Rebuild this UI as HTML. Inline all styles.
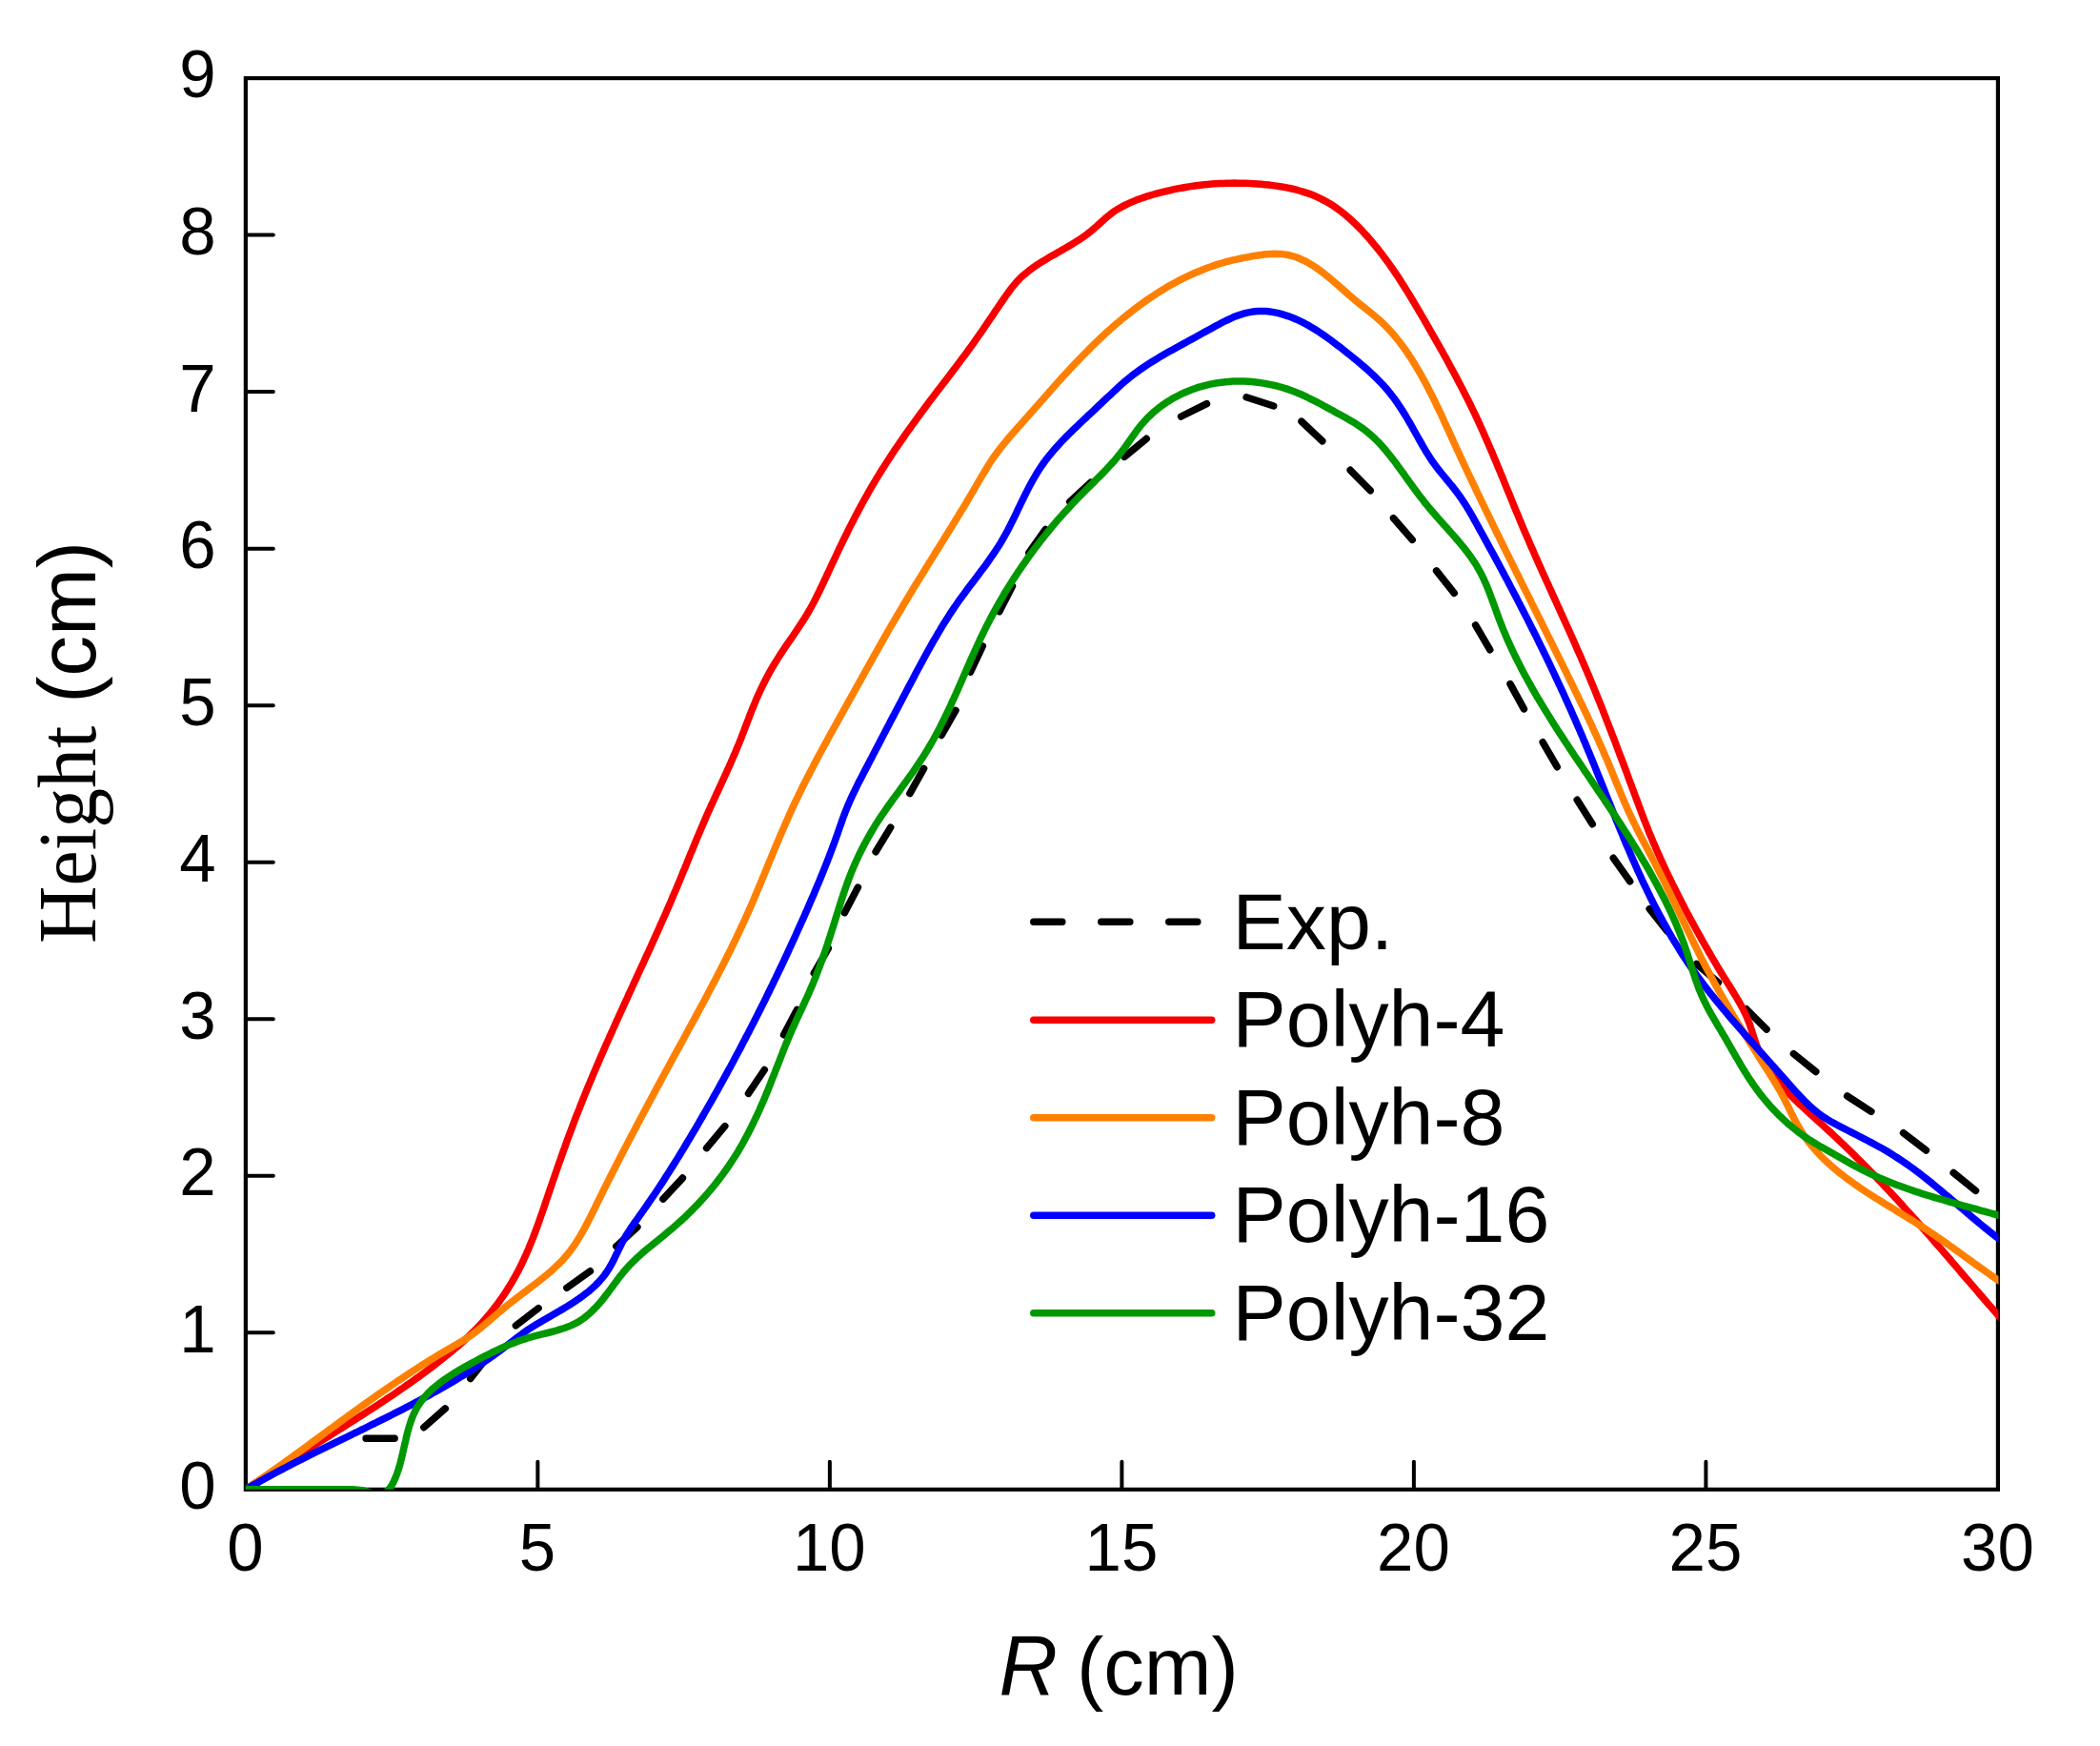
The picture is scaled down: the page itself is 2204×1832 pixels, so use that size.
<!DOCTYPE html>
<html lang="en"><head><meta charset="utf-8"><title>Height vs R (cm): Exp. and Polyh-4/8/16/32</title>
<style>html,body{margin:0;padding:0;background:#fff}svg{display:block}</style></head>
<body>
<svg width="2204" height="1832" viewBox="0 0 2204 1832">
<rect width="2204" height="1832" fill="#fff"/>
<defs><clipPath id="plot"><rect x="257.85" y="82.05" width="1839.60" height="1480.80"/></clipPath></defs>
<g fill="none" stroke="#000" stroke-width="4.20">
<rect x="257.85" y="82.05" width="1839.05" height="1480.80"/>
<path d="M564.36 1562.85V1533.85M870.87 1562.85V1533.85M1177.38 1562.85V1533.85M1483.88 1562.85V1533.85M1790.39 1562.85V1533.85M257.85 1398.32H286.85M257.85 1233.78H286.85M257.85 1069.25H286.85M257.85 904.72H286.85M257.85 740.18H286.85M257.85 575.65H286.85M257.85 411.12H286.85M257.85 246.58H286.85" stroke-linecap="round" stroke-width="4.00"/>
</g>
<g clip-path="url(#plot)" fill="none" stroke-width="7.50" stroke-linejoin="round">
<path d="M384.1 1509.2L414.1 1509.2M444.8 1497.7L467.3 1477.9M493.8 1446.5L512.2 1422.8M541.4 1390.9L565.1 1372.6M594.9 1351.2L619.4 1333.7M646.8 1307.7L668.9 1287.5M695.9 1258.1L716.4 1236.1M741.6 1204.6L760.8 1181.7M785.5 1147.3L802.3 1122.5M822.6 1085.8L836.6 1059.3M854.3 1021.2L869.3 995.1M886.4 957.7L900.4 931.1M919.1 893.7L934.7 868.1M954.9 832.6L969.6 806.4M988.1 771.5L1003.0 745.4M1018.5 705.1L1031.3 678.0M1048.8 641.7L1062.5 615.1M1079.9 580.0L1097.3 555.5M1122.8 526.6L1144.7 506.2M1180.1 479.4L1203.2 460.3M1239.6 437.0L1266.5 423.6M1308.1 416.8L1336.7 426.0M1366.0 442.2L1387.8 462.8M1417.2 493.3L1438.2 514.7M1462.5 543.7L1482.2 566.4M1507.6 598.9L1526.2 622.4M1548.6 655.9L1563.8 681.8M1585.0 717.6L1599.4 743.9M1619.2 778.8L1634.2 804.7M1655.2 839.3L1671.3 864.7M1693.3 900.3L1710.7 924.8M1731.2 953.7L1749.9 977.2M1780.6 1011.4L1803.4 1030.8M1832.8 1058.8L1854.1 1080.1M1882.4 1105.7L1905.8 1124.5M1938.7 1150.0L1963.9 1166.3M1997.6 1188.7L2021.5 1207.0M2050.2 1230.5L2073.5 1249.4" stroke="#000" stroke-linecap="round"/>
<path d="M257.9 1562.9L261.1 1560.6L264.4 1558.4L267.7 1556.2L271.0 1554.0L274.3 1551.8L277.6 1549.6L281.0 1547.4L284.3 1545.2L287.7 1543.0L291.0 1540.9L294.4 1538.7L297.7 1536.5L301.1 1534.4L304.5 1532.3L307.9 1530.1L311.2 1528.0L314.6 1525.8L318.0 1523.7L321.4 1521.6L324.8 1519.5L328.2 1517.3L331.6 1515.2L335.0 1513.1L338.4 1511.0L341.9 1508.8L345.3 1506.7L348.7 1504.6L352.1 1502.4L355.5 1500.3L358.9 1498.2L362.3 1496.0L365.7 1493.9L369.1 1491.8L372.5 1489.6L375.9 1487.4L379.3 1485.3L382.6 1483.1L386.0 1480.9L389.4 1478.8L392.8 1476.6L396.1 1474.4L399.5 1472.2L402.8 1470.0L406.2 1467.7L409.5 1465.5L412.8 1463.3L416.1 1461.0L419.4 1458.7L422.7 1456.5L426.0 1454.2L429.3 1451.9L432.6 1449.6L435.8 1447.2L439.1 1444.9L442.3 1442.5L445.5 1440.2L448.7 1437.8L451.9 1435.4L455.1 1433.0L458.2 1430.5L461.4 1428.1L464.5 1425.6L467.6 1423.1L470.7 1420.6L473.8 1418.1L476.9 1415.5L479.9 1413.0L482.9 1410.4L485.9 1407.7L488.8 1405.0L491.8 1402.3L494.6 1399.5L497.5 1396.7L500.3 1393.9L503.0 1391.0L505.8 1388.0L508.4 1385.0L511.1 1382.0L513.7 1378.9L516.2 1375.8L518.7 1372.6L521.1 1369.4L523.5 1366.2L525.9 1362.9L528.2 1359.6L530.4 1356.3L532.6 1352.9L534.7 1349.5L536.8 1346.1L538.8 1342.6L540.8 1339.1L542.7 1335.6L544.6 1332.1L546.4 1328.5L548.1 1325.0L549.8 1321.3L551.5 1317.7L553.1 1314.1L554.7 1310.4L556.2 1306.7L557.7 1303.0L559.2 1299.3L560.6 1295.6L562.0 1291.9L563.4 1288.1L564.8 1284.4L566.1 1280.6L567.4 1276.8L568.8 1273.0L570.1 1269.3L571.4 1265.5L572.6 1261.7L573.9 1257.9L575.2 1254.1L576.5 1250.3L577.8 1246.5L579.1 1242.7L580.4 1238.9L581.7 1235.2L583.0 1231.4L584.3 1227.6L585.6 1223.8L586.9 1220.0L588.3 1216.3L589.6 1212.5L590.9 1208.7L592.3 1205.0L593.6 1201.2L595.0 1197.4L596.4 1193.7L597.8 1189.9L599.2 1186.2L600.6 1182.4L602.0 1178.7L603.4 1174.9L604.8 1171.2L606.3 1167.5L607.8 1163.8L609.2 1160.0L610.7 1156.3L612.2 1152.6L613.7 1148.9L615.2 1145.2L616.7 1141.5L618.3 1137.8L619.8 1134.1L621.4 1130.4L622.9 1126.7L624.5 1123.0L626.0 1119.4L627.6 1115.7L629.2 1112.0L630.8 1108.3L632.4 1104.7L634.0 1101.0L635.6 1097.3L637.2 1093.7L638.9 1090.0L640.5 1086.3L642.1 1082.7L643.8 1079.0L645.4 1075.4L647.0 1071.7L648.7 1068.1L650.3 1064.5L652.0 1060.8L653.7 1057.2L655.3 1053.5L657.0 1049.9L658.7 1046.3L660.3 1042.6L662.0 1039.0L663.7 1035.3L665.3 1031.7L667.0 1028.1L668.7 1024.4L670.3 1020.8L672.0 1017.2L673.7 1013.5L675.4 1009.9L677.0 1006.3L678.7 1002.6L680.4 999.0L682.0 995.4L683.7 991.7L685.3 988.1L687.0 984.4L688.6 980.8L690.3 977.1L691.9 973.5L693.5 969.8L695.1 966.2L696.8 962.5L698.4 958.9L700.0 955.2L701.6 951.5L703.2 947.9L704.8 944.2L706.3 940.5L707.9 936.8L709.5 933.2L711.0 929.5L712.6 925.8L714.1 922.1L715.6 918.4L717.1 914.7L718.7 911.0L720.2 907.3L721.7 903.6L723.2 899.8L724.7 896.1L726.3 892.4L727.8 888.7L729.3 885.0L730.8 881.3L732.4 877.6L733.9 873.9L735.5 870.3L737.1 866.6L738.6 862.9L740.2 859.2L741.8 855.6L743.4 851.9L745.1 848.2L746.7 844.6L748.4 841.0L750.1 837.3L751.7 833.7L753.4 830.1L755.1 826.4L756.8 822.8L758.4 819.2L760.1 815.5L761.8 811.9L763.4 808.2L765.1 804.6L766.7 800.9L768.3 797.3L769.9 793.6L771.5 789.9L773.0 786.3L774.6 782.6L776.1 778.8L777.6 775.1L779.0 771.4L780.5 767.7L781.9 763.9L783.3 760.2L784.8 756.4L786.2 752.7L787.6 748.9L789.1 745.2L790.6 741.5L792.1 737.8L793.6 734.1L795.2 730.4L796.9 726.8L798.6 723.2L800.3 719.6L802.1 716.0L803.9 712.4L805.8 708.9L807.7 705.4L809.7 701.9L811.7 698.5L813.8 695.0L815.9 691.6L818.0 688.3L820.2 684.9L822.4 681.6L824.7 678.2L826.9 674.9L829.2 671.6L831.5 668.3L833.7 665.0L836.0 661.7L838.2 658.4L840.4 655.0L842.6 651.7L844.7 648.3L846.8 644.9L848.8 641.5L850.8 638.0L852.7 634.5L854.6 631.0L856.4 627.4L858.2 623.8L860.0 620.2L861.7 616.6L863.4 613.0L865.1 609.4L866.8 605.8L868.5 602.1L870.2 598.5L871.9 594.8L873.6 591.2L875.3 587.6L877.0 584.0L878.7 580.3L880.4 576.7L882.1 573.1L883.9 569.5L885.6 565.9L887.4 562.3L889.2 558.7L890.9 555.1L892.7 551.6L894.6 548.0L896.4 544.4L898.2 540.9L900.1 537.4L902.0 533.8L903.9 530.3L905.8 526.8L907.7 523.3L909.7 519.8L911.6 516.3L913.6 512.9L915.6 509.4L917.7 506.0L919.7 502.5L921.8 499.1L923.9 495.7L926.0 492.3L928.2 489.0L930.3 485.6L932.5 482.2L934.7 478.9L936.9 475.5L939.1 472.2L941.4 468.9L943.6 465.6L945.9 462.3L948.2 459.0L950.5 455.7L952.8 452.4L955.1 449.2L957.5 445.9L959.8 442.7L962.2 439.4L964.5 436.2L966.9 433.0L969.3 429.8L971.7 426.5L974.1 423.3L976.5 420.1L978.9 417.0L981.3 413.8L983.7 410.6L986.2 407.4L988.6 404.2L991.0 401.1L993.4 397.9L995.9 394.7L998.3 391.5L1000.7 388.4L1003.1 385.2L1005.5 382.0L1007.9 378.8L1010.3 375.6L1012.7 372.4L1015.1 369.2L1017.4 365.9L1019.8 362.7L1022.1 359.5L1024.4 356.2L1026.7 352.9L1029.0 349.6L1031.3 346.3L1033.5 343.0L1035.8 339.7L1038.0 336.4L1040.3 333.1L1042.5 329.8L1044.7 326.4L1047.0 323.1L1049.2 319.8L1051.5 316.5L1053.8 313.2L1056.1 309.9L1058.4 306.7L1060.7 303.5L1063.2 300.3L1065.7 297.3L1068.4 294.3L1071.1 291.5L1074.0 288.9L1077.1 286.3L1080.2 283.8L1083.4 281.4L1086.7 279.1L1090.0 276.9L1093.4 274.8L1096.9 272.7L1100.3 270.6L1103.8 268.6L1107.4 266.6L1110.9 264.6L1114.4 262.6L1117.9 260.6L1121.3 258.6L1124.7 256.5L1128.1 254.4L1131.5 252.3L1134.8 250.1L1138.1 247.8L1141.3 245.5L1144.4 243.0L1147.5 240.4L1150.5 237.8L1153.5 235.1L1156.4 232.4L1159.4 229.7L1162.5 227.1L1165.6 224.6L1168.8 222.2L1172.1 220.0L1175.6 218.0L1179.1 216.1L1182.6 214.3L1186.3 212.6L1189.9 211.1L1193.7 209.6L1197.5 208.2L1201.3 206.9L1205.1 205.7L1209.0 204.5L1212.9 203.4L1216.7 202.4L1220.6 201.4L1224.5 200.5L1228.4 199.6L1232.3 198.7L1236.2 197.9L1240.1 197.2L1244.1 196.5L1248.0 195.9L1251.9 195.3L1255.9 194.7L1259.8 194.2L1263.8 193.8L1267.7 193.4L1271.7 193.1L1275.6 192.8L1279.6 192.6L1283.6 192.4L1287.6 192.2L1291.6 192.2L1295.6 192.1L1299.6 192.2L1303.6 192.2L1307.6 192.3L1311.6 192.5L1315.6 192.7L1319.6 193.0L1323.7 193.3L1327.7 193.7L1331.7 194.1L1335.8 194.6L1339.8 195.1L1343.8 195.7L1347.8 196.4L1351.7 197.2L1355.7 198.0L1359.6 198.9L1363.5 200.0L1367.3 201.1L1371.1 202.3L1374.9 203.6L1378.6 205.1L1382.2 206.6L1385.8 208.3L1389.3 210.1L1392.8 212.0L1396.2 214.0L1399.5 216.1L1402.8 218.4L1406.0 220.7L1409.1 223.1L1412.2 225.7L1415.3 228.3L1418.2 230.9L1421.2 233.7L1424.0 236.5L1426.9 239.3L1429.7 242.2L1432.4 245.2L1435.1 248.1L1437.7 251.2L1440.3 254.2L1442.9 257.3L1445.4 260.4L1447.9 263.5L1450.4 266.7L1452.8 269.9L1455.1 273.1L1457.5 276.4L1459.8 279.6L1462.1 282.9L1464.3 286.2L1466.6 289.5L1468.8 292.9L1470.9 296.2L1473.1 299.6L1475.2 303.0L1477.3 306.4L1479.4 309.8L1481.5 313.2L1483.6 316.7L1485.6 320.1L1487.7 323.6L1489.7 327.0L1491.7 330.5L1493.7 333.9L1495.7 337.4L1497.7 340.9L1499.7 344.4L1501.7 347.8L1503.7 351.3L1505.7 354.8L1507.7 358.3L1509.7 361.8L1511.6 365.3L1513.6 368.7L1515.5 372.2L1517.5 375.7L1519.4 379.2L1521.3 382.8L1523.2 386.3L1525.1 389.8L1527.0 393.3L1528.9 396.8L1530.8 400.4L1532.6 403.9L1534.5 407.5L1536.3 411.0L1538.1 414.6L1539.9 418.1L1541.7 421.7L1543.5 425.3L1545.2 428.9L1547.0 432.5L1548.7 436.1L1550.4 439.7L1552.1 443.3L1553.7 447.0L1555.4 450.6L1557.0 454.3L1558.6 457.9L1560.2 461.6L1561.8 465.2L1563.4 468.9L1565.0 472.6L1566.6 476.3L1568.1 480.0L1569.7 483.7L1571.2 487.4L1572.7 491.1L1574.3 494.8L1575.8 498.5L1577.3 502.2L1578.8 505.9L1580.3 509.6L1581.8 513.3L1583.4 517.0L1584.9 520.7L1586.4 524.4L1587.9 528.1L1589.4 531.8L1590.9 535.5L1592.5 539.2L1594.0 542.9L1595.5 546.6L1597.1 550.3L1598.6 554.0L1600.2 557.7L1601.8 561.4L1603.4 565.1L1605.0 568.8L1606.5 572.4L1608.2 576.1L1609.8 579.8L1611.4 583.4L1613.0 587.1L1614.6 590.7L1616.3 594.4L1617.9 598.0L1619.5 601.7L1621.2 605.3L1622.8 609.0L1624.5 612.6L1626.1 616.3L1627.8 619.9L1629.5 623.6L1631.1 627.2L1632.8 630.8L1634.4 634.5L1636.1 638.1L1637.7 641.8L1639.4 645.4L1641.0 649.0L1642.7 652.7L1644.3 656.3L1646.0 660.0L1647.6 663.6L1649.3 667.3L1650.9 670.9L1652.5 674.6L1654.1 678.3L1655.7 681.9L1657.4 685.6L1659.0 689.2L1660.5 692.9L1662.1 696.6L1663.7 700.3L1665.3 703.9L1666.8 707.6L1668.4 711.3L1669.9 715.0L1671.5 718.7L1673.0 722.4L1674.5 726.1L1676.0 729.8L1677.5 733.5L1679.0 737.2L1680.5 741.0L1682.0 744.7L1683.4 748.4L1684.9 752.1L1686.3 755.9L1687.8 759.6L1689.2 763.3L1690.7 767.1L1692.1 770.8L1693.6 774.5L1695.0 778.3L1696.4 782.0L1697.8 785.8L1699.2 789.5L1700.6 793.2L1702.1 797.0L1703.5 800.7L1704.9 804.5L1706.3 808.2L1707.7 812.0L1709.0 815.7L1710.4 819.5L1711.8 823.2L1713.2 827.0L1714.6 830.7L1716.0 834.5L1717.4 838.2L1718.8 841.9L1720.2 845.7L1721.6 849.4L1723.0 853.2L1724.4 856.9L1725.8 860.6L1727.3 864.3L1728.8 868.1L1730.2 871.8L1731.7 875.5L1733.3 879.2L1734.8 882.9L1736.4 886.6L1738.0 890.2L1739.6 893.9L1741.2 897.6L1742.8 901.2L1744.5 904.9L1746.2 908.5L1747.9 912.2L1749.6 915.8L1751.3 919.4L1753.1 923.0L1754.8 926.6L1756.6 930.2L1758.4 933.8L1760.2 937.4L1762.0 941.0L1763.8 944.5L1765.6 948.1L1767.5 951.6L1769.3 955.2L1771.2 958.7L1773.1 962.2L1775.0 965.7L1776.9 969.3L1778.8 972.8L1780.7 976.3L1782.6 979.7L1784.6 983.2L1786.5 986.7L1788.5 990.2L1790.5 993.6L1792.5 997.1L1794.5 1000.5L1796.5 1004.0L1798.5 1007.4L1800.6 1010.9L1802.6 1014.3L1804.7 1017.7L1806.8 1021.2L1808.9 1024.6L1811.0 1028.0L1813.1 1031.4L1815.3 1034.8L1817.4 1038.3L1819.5 1041.7L1821.6 1045.1L1823.7 1048.6L1825.7 1052.0L1827.6 1055.5L1829.5 1059.1L1831.2 1062.6L1832.9 1066.2L1834.4 1069.9L1835.9 1073.6L1837.2 1077.3L1838.4 1081.1L1839.6 1084.9L1840.8 1088.7L1842.1 1092.5L1843.4 1096.3L1844.9 1100.0L1846.5 1103.7L1848.3 1107.3L1850.1 1110.9L1852.1 1114.4L1854.1 1117.9L1856.3 1121.3L1858.5 1124.6L1860.8 1127.9L1863.2 1131.0L1865.7 1134.2L1868.3 1137.2L1870.9 1140.2L1873.5 1143.2L1876.2 1146.1L1879.0 1149.0L1881.8 1151.8L1884.7 1154.6L1887.5 1157.4L1890.4 1160.1L1893.4 1162.8L1896.3 1165.5L1899.3 1168.2L1902.3 1170.9L1905.3 1173.6L1908.2 1176.3L1911.2 1179.0L1914.2 1181.7L1917.1 1184.4L1920.1 1187.1L1923.0 1189.8L1925.9 1192.6L1928.8 1195.3L1931.7 1198.1L1934.6 1200.8L1937.5 1203.6L1940.4 1206.4L1943.2 1209.2L1946.1 1212.0L1948.9 1214.8L1951.8 1217.6L1954.6 1220.4L1957.4 1223.3L1960.2 1226.1L1963.0 1229.0L1965.8 1231.8L1968.6 1234.7L1971.3 1237.6L1974.1 1240.5L1976.8 1243.4L1979.6 1246.3L1982.3 1249.2L1985.0 1252.1L1987.8 1255.1L1990.5 1258.0L1993.2 1261.0L1995.9 1263.9L1998.6 1266.9L2001.3 1269.9L2003.9 1272.8L2006.6 1275.8L2009.3 1278.8L2011.9 1281.8L2014.6 1284.8L2017.2 1287.8L2019.9 1290.8L2022.5 1293.8L2025.2 1296.8L2027.8 1299.8L2030.4 1302.9L2033.1 1305.9L2035.7 1308.9L2038.3 1311.9L2040.9 1315.0L2043.6 1318.0L2046.2 1321.0L2048.8 1324.1L2051.4 1327.1L2054.0 1330.1L2056.6 1333.2L2059.2 1336.2L2061.8 1339.2L2064.4 1342.3L2067.1 1345.3L2069.7 1348.4L2072.3 1351.4L2074.9 1354.4L2077.5 1357.5L2080.1 1360.5L2082.7 1363.5L2085.3 1366.5L2087.9 1369.6L2090.6 1372.6L2093.2 1375.6L2095.8 1378.6L2098.4 1381.6L2101.0 1384.6" stroke="#f80000"/>
<path d="M257.8 1562.8L261.2 1560.6L264.5 1558.4L267.7 1556.1L271.0 1553.9L274.3 1551.6L277.6 1549.3L280.9 1547.0L284.1 1544.7L287.4 1542.4L290.7 1540.1L293.9 1537.8L297.2 1535.5L300.4 1533.1L303.7 1530.8L306.9 1528.5L310.1 1526.1L313.4 1523.8L316.6 1521.4L319.9 1519.0L323.1 1516.7L326.3 1514.3L329.6 1511.9L332.8 1509.6L336.0 1507.2L339.3 1504.8L342.5 1502.5L345.7 1500.1L349.0 1497.7L352.2 1495.4L355.4 1493.0L358.7 1490.6L361.9 1488.3L365.1 1485.9L368.4 1483.6L371.6 1481.2L374.9 1478.9L378.1 1476.5L381.4 1474.2L384.7 1471.9L387.9 1469.6L391.2 1467.2L394.5 1464.9L397.7 1462.6L401.0 1460.4L404.3 1458.1L407.6 1455.8L410.9 1453.5L414.2 1451.3L417.5 1449.0L420.9 1446.8L424.2 1444.6L427.5 1442.4L430.9 1440.2L434.2 1438.0L437.6 1435.8L440.9 1433.7L444.3 1431.5L447.7 1429.4L451.1 1427.3L454.5 1425.2L457.9 1423.1L461.3 1421.1L464.8 1419.0L468.2 1417.0L471.7 1415.0L475.1 1413.0L478.6 1411.0L482.0 1408.9L485.4 1406.9L488.8 1404.8L492.1 1402.6L495.4 1400.3L498.6 1397.9L501.8 1395.5L504.9 1393.0L507.9 1390.4L511.0 1387.9L514.0 1385.3L517.0 1382.7L520.1 1380.1L523.1 1377.5L526.1 1375.0L529.2 1372.4L532.2 1369.9L535.3 1367.4L538.4 1365.0L541.6 1362.5L544.8 1360.1L548.0 1357.6L551.2 1355.2L554.4 1352.8L557.6 1350.3L560.9 1347.9L564.1 1345.4L567.3 1342.9L570.4 1340.4L573.6 1337.8L576.7 1335.2L579.7 1332.5L582.6 1329.8L585.5 1327.1L588.4 1324.3L591.1 1321.4L593.7 1318.4L596.2 1315.4L598.7 1312.2L601.0 1309.1L603.3 1305.8L605.4 1302.5L607.5 1299.1L609.6 1295.7L611.5 1292.3L613.5 1288.8L615.3 1285.3L617.2 1281.7L619.0 1278.1L620.8 1274.6L622.6 1271.0L624.4 1267.3L626.1 1263.7L627.9 1260.1L629.7 1256.5L631.5 1252.9L633.2 1249.3L635.0 1245.7L636.8 1242.2L638.6 1238.6L640.4 1235.0L642.2 1231.4L644.1 1227.9L645.9 1224.3L647.7 1220.7L649.5 1217.2L651.4 1213.6L653.2 1210.0L655.0 1206.5L656.9 1202.9L658.7 1199.4L660.6 1195.8L662.4 1192.3L664.3 1188.8L666.2 1185.2L668.0 1181.7L669.9 1178.1L671.8 1174.6L673.6 1171.1L675.5 1167.5L677.4 1164.0L679.3 1160.5L681.1 1157.0L683.0 1153.5L684.9 1149.9L686.8 1146.4L688.7 1142.9L690.6 1139.4L692.5 1135.9L694.4 1132.3L696.3 1128.8L698.2 1125.3L700.1 1121.8L702.0 1118.3L703.9 1114.8L705.8 1111.3L707.7 1107.7L709.6 1104.2L711.6 1100.7L713.5 1097.2L715.4 1093.7L717.3 1090.2L719.2 1086.7L721.1 1083.2L723.0 1079.6L725.0 1076.1L726.9 1072.6L728.8 1069.1L730.7 1065.6L732.6 1062.1L734.5 1058.5L736.4 1055.0L738.3 1051.5L740.2 1047.9L742.1 1044.4L743.9 1040.9L745.8 1037.3L747.7 1033.8L749.5 1030.3L751.4 1026.7L753.2 1023.2L755.1 1019.6L756.9 1016.0L758.7 1012.5L760.5 1008.9L762.3 1005.3L764.1 1001.8L765.9 998.2L767.7 994.6L769.4 991.0L771.2 987.4L772.9 983.8L774.6 980.2L776.3 976.6L778.0 972.9L779.7 969.3L781.4 965.7L783.0 962.0L784.7 958.4L786.3 954.7L787.9 951.0L789.5 947.4L791.1 943.7L792.6 940.0L794.2 936.3L795.7 932.6L797.3 929.0L798.8 925.3L800.3 921.6L801.9 917.9L803.4 914.2L804.9 910.5L806.4 906.8L808.0 903.1L809.5 899.4L811.0 895.7L812.5 892.0L814.1 888.3L815.6 884.6L817.2 880.9L818.7 877.2L820.3 873.5L821.9 869.9L823.5 866.2L825.1 862.5L826.7 858.9L828.3 855.2L830.0 851.6L831.6 847.9L833.3 844.3L835.0 840.7L836.8 837.1L838.5 833.5L840.3 829.9L842.0 826.3L843.8 822.7L845.6 819.2L847.4 815.6L849.3 812.1L851.1 808.5L853.0 805.0L854.8 801.4L856.7 797.9L858.6 794.3L860.5 790.8L862.4 787.3L864.3 783.8L866.2 780.3L868.1 776.7L870.0 773.2L872.0 769.7L873.9 766.2L875.9 762.7L877.8 759.2L879.7 755.7L881.7 752.2L883.6 748.7L885.6 745.2L887.5 741.7L889.5 738.2L891.4 734.7L893.4 731.2L895.3 727.7L897.3 724.2L899.2 720.7L901.2 717.2L903.1 713.7L905.0 710.3L907.0 706.8L908.9 703.3L910.9 699.8L912.8 696.3L914.8 692.8L916.7 689.3L918.7 685.8L920.7 682.3L922.6 678.9L924.6 675.4L926.6 671.9L928.6 668.4L930.5 665.0L932.5 661.5L934.5 658.0L936.5 654.6L938.6 651.1L940.6 647.7L942.6 644.2L944.7 640.8L946.7 637.3L948.7 633.9L950.8 630.5L952.9 627.0L954.9 623.6L957.0 620.2L959.1 616.8L961.2 613.3L963.3 609.9L965.4 606.5L967.5 603.1L969.6 599.7L971.7 596.3L973.8 592.9L975.9 589.5L978.0 586.1L980.1 582.7L982.2 579.3L984.4 575.9L986.5 572.5L988.6 569.1L990.7 565.7L992.8 562.3L994.9 558.9L997.0 555.5L999.1 552.1L1001.2 548.7L1003.3 545.3L1005.4 541.9L1007.4 538.5L1009.5 535.1L1011.6 531.7L1013.6 528.3L1015.7 524.8L1017.7 521.4L1019.8 517.9L1021.8 514.5L1023.8 511.0L1025.8 507.5L1027.8 504.0L1029.8 500.6L1031.9 497.1L1034.0 493.7L1036.1 490.3L1038.2 486.9L1040.4 483.5L1042.6 480.2L1044.9 477.0L1047.3 473.7L1049.7 470.6L1052.1 467.5L1054.7 464.4L1057.2 461.3L1059.8 458.3L1062.4 455.3L1065.1 452.3L1067.7 449.3L1070.4 446.3L1073.1 443.3L1075.7 440.3L1078.4 437.3L1081.0 434.3L1083.7 431.3L1086.3 428.2L1089.0 425.2L1091.6 422.2L1094.3 419.2L1096.9 416.2L1099.6 413.2L1102.2 410.2L1104.9 407.2L1107.5 404.2L1110.2 401.3L1112.9 398.3L1115.5 395.3L1118.2 392.4L1120.9 389.5L1123.6 386.5L1126.3 383.6L1129.1 380.7L1131.8 377.9L1134.6 375.0L1137.4 372.1L1140.2 369.3L1143.0 366.5L1145.8 363.6L1148.7 360.8L1151.6 358.1L1154.5 355.3L1157.4 352.6L1160.3 349.8L1163.3 347.1L1166.3 344.5L1169.3 341.8L1172.4 339.2L1175.5 336.6L1178.5 334.0L1181.7 331.5L1184.8 329.0L1188.0 326.5L1191.1 324.0L1194.4 321.6L1197.6 319.2L1200.8 316.9L1204.1 314.6L1207.4 312.3L1210.8 310.1L1214.1 307.9L1217.5 305.8L1220.9 303.7L1224.3 301.6L1227.8 299.6L1231.2 297.7L1234.7 295.8L1238.2 293.9L1241.8 292.1L1245.4 290.3L1249.0 288.6L1252.6 287.0L1256.2 285.4L1259.9 283.9L1263.6 282.4L1267.3 281.0L1271.1 279.7L1274.8 278.4L1278.6 277.1L1282.5 276.0L1286.3 274.9L1290.2 273.9L1294.1 272.9L1298.0 272.1L1301.9 271.2L1305.9 270.4L1309.9 269.7L1313.9 268.9L1317.8 268.3L1321.8 267.7L1325.8 267.1L1329.8 266.7L1333.8 266.4L1337.8 266.3L1341.7 266.4L1345.6 266.6L1349.5 267.1L1353.3 267.8L1357.0 268.8L1360.7 270.0L1364.4 271.5L1368.0 273.1L1371.6 274.9L1375.1 277.0L1378.6 279.1L1382.0 281.4L1385.3 283.8L1388.6 286.2L1391.8 288.8L1395.0 291.3L1398.1 294.0L1401.2 296.6L1404.2 299.2L1407.2 301.8L1410.1 304.4L1413.1 307.1L1416.0 309.7L1419.0 312.2L1422.1 314.8L1425.1 317.3L1428.2 319.8L1431.4 322.3L1434.5 324.8L1437.7 327.4L1440.8 329.9L1443.9 332.5L1446.9 335.1L1449.9 337.8L1452.8 340.6L1455.6 343.5L1458.3 346.4L1461.0 349.3L1463.6 352.3L1466.1 355.4L1468.6 358.5L1471.0 361.7L1473.4 364.9L1475.7 368.2L1477.9 371.4L1480.1 374.8L1482.3 378.1L1484.4 381.5L1486.4 384.9L1488.5 388.4L1490.5 391.8L1492.4 395.3L1494.4 398.8L1496.3 402.3L1498.1 405.8L1500.0 409.4L1501.8 412.9L1503.6 416.5L1505.4 420.1L1507.1 423.7L1508.8 427.3L1510.6 430.9L1512.3 434.5L1514.0 438.2L1515.6 441.8L1517.3 445.4L1519.0 449.1L1520.7 452.7L1522.3 456.4L1524.0 460.0L1525.6 463.7L1527.3 467.3L1529.0 471.0L1530.7 474.6L1532.3 478.2L1534.0 481.9L1535.7 485.5L1537.4 489.1L1539.1 492.8L1540.8 496.4L1542.5 500.0L1544.2 503.6L1546.0 507.2L1547.7 510.8L1549.4 514.5L1551.1 518.1L1552.9 521.7L1554.6 525.3L1556.3 528.9L1558.1 532.5L1559.8 536.1L1561.6 539.7L1563.3 543.3L1565.1 546.9L1566.8 550.5L1568.6 554.1L1570.3 557.7L1572.1 561.3L1573.9 564.8L1575.6 568.4L1577.4 572.0L1579.2 575.6L1580.9 579.2L1582.7 582.8L1584.5 586.4L1586.3 589.9L1588.0 593.5L1589.8 597.1L1591.6 600.7L1593.4 604.3L1595.2 607.8L1596.9 611.4L1598.7 615.0L1600.5 618.6L1602.3 622.1L1604.1 625.7L1605.9 629.3L1607.6 632.9L1609.4 636.5L1611.2 640.0L1613.0 643.6L1614.8 647.2L1616.6 650.8L1618.4 654.3L1620.1 657.9L1621.9 661.5L1623.7 665.1L1625.5 668.7L1627.3 672.2L1629.1 675.8L1630.8 679.4L1632.6 683.0L1634.4 686.6L1636.2 690.2L1637.9 693.7L1639.7 697.3L1641.5 700.9L1643.3 704.5L1645.0 708.1L1646.8 711.7L1648.5 715.3L1650.3 718.9L1652.1 722.5L1653.8 726.1L1655.6 729.7L1657.3 733.3L1659.0 736.9L1660.8 740.5L1662.5 744.1L1664.2 747.7L1665.9 751.4L1667.6 755.0L1669.3 758.6L1671.0 762.2L1672.6 765.9L1674.3 769.5L1676.0 773.2L1677.6 776.8L1679.2 780.5L1680.8 784.1L1682.5 787.8L1684.0 791.5L1685.6 795.1L1687.2 798.8L1688.7 802.5L1690.3 806.2L1691.8 809.9L1693.3 813.6L1694.8 817.3L1696.3 821.0L1697.9 824.7L1699.4 828.4L1700.9 832.1L1702.4 835.8L1704.0 839.5L1705.6 843.2L1707.2 846.8L1708.8 850.5L1710.5 854.1L1712.2 857.7L1713.9 861.3L1715.7 864.9L1717.4 868.5L1719.2 872.1L1721.1 875.6L1722.9 879.2L1724.7 882.7L1726.6 886.3L1728.5 889.8L1730.3 893.4L1732.2 896.9L1734.1 900.5L1735.9 904.0L1737.8 907.6L1739.6 911.1L1741.4 914.7L1743.2 918.2L1745.0 921.8L1746.8 925.4L1748.6 929.0L1750.3 932.6L1752.1 936.2L1753.8 939.8L1755.6 943.4L1757.3 947.0L1759.0 950.6L1760.8 954.2L1762.5 957.8L1764.2 961.5L1765.9 965.1L1767.7 968.7L1769.4 972.3L1771.1 975.9L1772.9 979.5L1774.6 983.1L1776.4 986.7L1778.1 990.3L1779.9 993.9L1781.7 997.5L1783.4 1001.0L1785.2 1004.6L1787.1 1008.2L1788.9 1011.7L1790.7 1015.3L1792.6 1018.8L1794.5 1022.3L1796.4 1025.8L1798.3 1029.4L1800.2 1032.9L1802.2 1036.4L1804.1 1039.8L1806.1 1043.3L1808.1 1046.8L1810.1 1050.3L1812.1 1053.7L1814.1 1057.2L1816.1 1060.6L1818.2 1064.1L1820.2 1067.5L1822.3 1070.9L1824.4 1074.3L1826.5 1077.7L1828.6 1081.2L1830.7 1084.6L1832.8 1088.0L1834.9 1091.4L1837.0 1094.8L1839.1 1098.1L1841.3 1101.5L1843.4 1104.9L1845.5 1108.3L1847.7 1111.7L1849.8 1115.0L1852.0 1118.4L1854.2 1121.8L1856.3 1125.1L1858.4 1128.5L1860.5 1131.9L1862.6 1135.3L1864.7 1138.8L1866.7 1142.2L1868.7 1145.7L1870.6 1149.2L1872.5 1152.7L1874.3 1156.3L1876.1 1159.9L1877.9 1163.5L1879.6 1167.1L1881.4 1170.7L1883.2 1174.3L1885.1 1177.8L1887.0 1181.3L1889.1 1184.8L1891.2 1188.2L1893.4 1191.5L1895.6 1194.7L1898.0 1197.9L1900.5 1201.1L1903.0 1204.1L1905.7 1207.2L1908.3 1210.1L1911.1 1213.0L1913.9 1215.8L1916.8 1218.6L1919.8 1221.3L1922.8 1224.0L1925.8 1226.6L1928.9 1229.2L1932.1 1231.7L1935.2 1234.1L1938.4 1236.6L1941.6 1238.9L1944.9 1241.3L1948.2 1243.6L1951.4 1245.8L1954.8 1248.1L1958.1 1250.3L1961.4 1252.5L1964.8 1254.6L1968.2 1256.8L1971.6 1258.9L1975.0 1261.0L1978.4 1263.1L1981.8 1265.2L1985.2 1267.3L1988.6 1269.4L1992.0 1271.4L1995.4 1273.5L1998.8 1275.6L2002.2 1277.7L2005.6 1279.8L2009.0 1281.9L2012.4 1284.1L2015.8 1286.2L2019.1 1288.4L2022.5 1290.6L2025.8 1292.8L2029.1 1295.1L2032.4 1297.3L2035.7 1299.6L2039.0 1301.9L2042.3 1304.2L2045.5 1306.5L2048.8 1308.8L2052.0 1311.2L2055.3 1313.5L2058.5 1315.8L2061.8 1318.2L2065.0 1320.5L2068.3 1322.9L2071.5 1325.2L2074.8 1327.6L2078.0 1329.9L2081.3 1332.2L2084.6 1334.5L2087.8 1336.8L2091.1 1339.1L2094.4 1341.4L2097.7 1343.6L2101.0 1345.8" stroke="#ff8000"/>
<path d="M257.9 1562.8L261.3 1560.8L264.8 1558.8L268.3 1556.9L271.7 1554.9L275.2 1553.0L278.7 1551.0L282.2 1549.1L285.7 1547.2L289.3 1545.3L292.8 1543.4L296.3 1541.6L299.9 1539.7L303.4 1537.9L307.0 1536.0L310.5 1534.2L314.1 1532.4L317.7 1530.6L321.3 1528.8L324.8 1527.0L328.4 1525.2L332.0 1523.4L335.6 1521.7L339.2 1519.9L342.8 1518.1L346.4 1516.4L350.0 1514.6L353.6 1512.8L357.2 1511.1L360.8 1509.3L364.4 1507.6L368.0 1505.8L371.6 1504.0L375.2 1502.3L378.8 1500.5L382.4 1498.8L386.0 1497.0L389.6 1495.2L393.2 1493.5L396.8 1491.7L400.4 1489.9L404.0 1488.1L407.6 1486.3L411.2 1484.5L414.7 1482.7L418.3 1480.9L421.9 1479.1L425.4 1477.2L429.0 1475.4L432.5 1473.5L436.0 1471.7L439.6 1469.8L443.1 1467.9L446.6 1466.0L450.1 1464.1L453.6 1462.1L457.1 1460.2L460.6 1458.2L464.1 1456.3L467.5 1454.3L471.0 1452.3L474.4 1450.2L477.8 1448.2L481.3 1446.1L484.7 1444.1L488.1 1442.0L491.4 1439.8L494.8 1437.7L498.2 1435.5L501.5 1433.3L504.8 1431.1L508.2 1428.9L511.5 1426.6L514.7 1424.4L518.0 1422.1L521.3 1419.7L524.5 1417.4L527.7 1415.0L530.9 1412.6L534.1 1410.1L537.3 1407.7L540.5 1405.2L543.7 1402.8L546.9 1400.4L550.1 1398.0L553.4 1395.7L556.7 1393.5L560.1 1391.4L563.5 1389.3L567.0 1387.3L570.4 1385.3L573.9 1383.3L577.4 1381.3L580.8 1379.3L584.2 1377.3L587.7 1375.3L591.1 1373.2L594.6 1371.1L598.0 1369.0L601.4 1366.8L604.7 1364.6L608.0 1362.4L611.3 1360.0L614.5 1357.6L617.7 1355.1L620.7 1352.5L623.7 1349.8L626.5 1347.0L629.3 1344.1L631.9 1341.1L634.4 1338.0L636.7 1334.8L638.8 1331.5L640.9 1328.0L642.8 1324.5L644.6 1321.0L646.3 1317.3L648.1 1313.7L649.8 1310.1L651.6 1306.5L653.4 1302.9L655.4 1299.4L657.4 1296.0L659.5 1292.6L661.7 1289.2L664.0 1285.9L666.2 1282.6L668.6 1279.4L670.9 1276.1L673.2 1272.9L675.5 1269.6L677.8 1266.3L680.1 1263.0L682.4 1259.7L684.6 1256.4L686.9 1253.1L689.1 1249.8L691.3 1246.5L693.5 1243.1L695.7 1239.8L697.9 1236.4L700.0 1233.1L702.2 1229.7L704.3 1226.3L706.5 1222.9L708.6 1219.5L710.7 1216.1L712.8 1212.7L714.9 1209.3L717.0 1205.9L719.0 1202.5L721.1 1199.0L723.1 1195.6L725.2 1192.2L727.2 1188.7L729.3 1185.3L731.3 1181.8L733.3 1178.4L735.3 1174.9L737.3 1171.5L739.3 1168.0L741.3 1164.5L743.3 1161.0L745.3 1157.6L747.3 1154.1L749.2 1150.6L751.2 1147.1L753.2 1143.6L755.1 1140.1L757.0 1136.6L759.0 1133.1L760.9 1129.6L762.8 1126.1L764.7 1122.6L766.7 1119.1L768.6 1115.5L770.5 1112.0L772.3 1108.5L774.2 1105.0L776.1 1101.4L778.0 1097.9L779.8 1094.3L781.7 1090.8L783.5 1087.2L785.4 1083.7L787.2 1080.1L789.0 1076.6L790.9 1073.0L792.7 1069.4L794.5 1065.9L796.3 1062.3L798.1 1058.7L799.9 1055.1L801.7 1051.6L803.5 1048.0L805.2 1044.4L807.0 1040.8L808.7 1037.2L810.5 1033.6L812.2 1030.0L814.0 1026.4L815.7 1022.8L817.4 1019.2L819.2 1015.5L820.9 1011.9L822.6 1008.3L824.3 1004.7L826.0 1001.1L827.7 997.4L829.3 993.8L831.0 990.2L832.7 986.5L834.3 982.9L836.0 979.2L837.6 975.6L839.3 971.9L840.9 968.3L842.6 964.6L844.2 961.0L845.8 957.3L847.4 953.7L849.0 950.0L850.6 946.3L852.2 942.6L853.8 939.0L855.3 935.3L856.9 931.6L858.4 927.9L860.0 924.2L861.5 920.5L863.0 916.8L864.5 913.1L866.0 909.4L867.5 905.7L868.9 902.0L870.4 898.2L871.8 894.5L873.2 890.7L874.6 887.0L876.0 883.2L877.3 879.5L878.7 875.7L880.0 871.9L881.3 868.1L882.6 864.4L884.0 860.6L885.3 856.8L886.7 853.1L888.2 849.4L889.7 845.7L891.3 842.0L892.9 838.3L894.6 834.7L896.3 831.1L898.1 827.5L899.8 823.9L901.6 820.3L903.5 816.7L905.3 813.2L907.1 809.6L909.0 806.1L910.9 802.5L912.7 799.0L914.6 795.4L916.4 791.9L918.3 788.3L920.1 784.8L922.0 781.2L923.8 777.7L925.7 774.1L927.5 770.6L929.4 767.0L931.2 763.5L933.1 760.0L934.9 756.4L936.8 752.9L938.7 749.3L940.5 745.8L942.4 742.2L944.2 738.7L946.1 735.2L948.0 731.6L949.8 728.1L951.7 724.5L953.5 721.0L955.4 717.5L957.3 713.9L959.2 710.4L961.0 706.8L962.9 703.3L964.8 699.8L966.7 696.2L968.6 692.7L970.5 689.2L972.4 685.7L974.4 682.2L976.3 678.7L978.3 675.2L980.3 671.7L982.3 668.3L984.3 664.8L986.4 661.4L988.4 657.9L990.5 654.5L992.6 651.1L994.8 647.8L996.9 644.4L999.1 641.1L1001.4 637.7L1003.6 634.5L1005.9 631.2L1008.2 627.9L1010.6 624.7L1013.0 621.5L1015.3 618.3L1017.7 615.1L1020.2 611.9L1022.6 608.7L1025.0 605.5L1027.4 602.3L1029.8 599.1L1032.2 595.9L1034.6 592.7L1036.9 589.5L1039.2 586.2L1041.5 582.9L1043.7 579.7L1045.9 576.3L1048.1 573.0L1050.2 569.6L1052.2 566.2L1054.2 562.7L1056.1 559.2L1058.0 555.7L1059.8 552.1L1061.6 548.6L1063.4 545.0L1065.2 541.4L1066.9 537.8L1068.6 534.1L1070.4 530.5L1072.1 526.9L1073.9 523.3L1075.6 519.7L1077.4 516.1L1079.2 512.6L1081.1 509.0L1083.0 505.5L1085.0 502.0L1087.0 498.6L1089.0 495.2L1091.2 491.8L1093.4 488.5L1095.7 485.3L1098.1 482.1L1100.5 478.9L1103.1 475.8L1105.7 472.7L1108.3 469.7L1111.0 466.7L1113.7 463.8L1116.5 460.8L1119.3 458.0L1122.2 455.1L1125.1 452.3L1128.0 449.4L1130.9 446.7L1133.8 443.9L1136.7 441.1L1139.6 438.4L1142.6 435.6L1145.5 432.9L1148.4 430.2L1151.2 427.5L1154.1 424.7L1157.0 422.0L1159.9 419.3L1162.8 416.6L1165.7 413.9L1168.6 411.1L1171.5 408.4L1174.4 405.7L1177.4 403.0L1180.4 400.4L1183.5 397.8L1186.6 395.3L1189.8 392.8L1193.0 390.4L1196.2 388.1L1199.5 385.8L1202.8 383.6L1206.2 381.4L1209.6 379.3L1213.0 377.2L1216.4 375.1L1219.9 373.1L1223.3 371.1L1226.8 369.1L1230.3 367.2L1233.8 365.2L1237.3 363.3L1240.8 361.4L1244.3 359.4L1247.8 357.5L1251.3 355.6L1254.8 353.7L1258.3 351.7L1261.8 349.8L1265.3 347.9L1268.8 346.0L1272.4 344.1L1275.9 342.1L1279.4 340.2L1283.0 338.3L1286.6 336.5L1290.2 334.8L1293.9 333.1L1297.6 331.6L1301.3 330.3L1305.1 329.1L1309.0 328.1L1312.9 327.4L1316.8 326.8L1320.7 326.5L1324.7 326.4L1328.7 326.6L1332.7 327.0L1336.7 327.6L1340.7 328.4L1344.6 329.4L1348.5 330.6L1352.3 331.8L1356.1 333.2L1359.7 334.8L1363.4 336.4L1367.0 338.1L1370.5 340.0L1374.0 341.9L1377.4 343.9L1380.8 346.0L1384.1 348.1L1387.4 350.3L1390.7 352.6L1394.0 355.0L1397.2 357.3L1400.4 359.7L1403.6 362.2L1406.8 364.6L1410.0 367.1L1413.1 369.6L1416.3 372.1L1419.4 374.6L1422.5 377.2L1425.6 379.7L1428.7 382.3L1431.7 384.9L1434.8 387.6L1437.7 390.3L1440.7 393.0L1443.5 395.7L1446.4 398.6L1449.1 401.4L1451.9 404.3L1454.5 407.3L1457.1 410.3L1459.6 413.4L1462.0 416.6L1464.4 419.8L1466.7 423.0L1468.9 426.4L1471.1 429.7L1473.3 433.1L1475.4 436.5L1477.4 440.0L1479.5 443.5L1481.5 447.0L1483.4 450.5L1485.4 454.0L1487.4 457.5L1489.3 461.0L1491.3 464.4L1493.2 467.9L1495.3 471.4L1497.3 474.8L1499.4 478.1L1501.6 481.5L1503.8 484.8L1506.2 488.0L1508.6 491.2L1511.1 494.4L1513.6 497.5L1516.2 500.6L1518.7 503.7L1521.3 506.8L1523.9 509.9L1526.4 513.1L1528.8 516.3L1531.2 519.5L1533.5 522.7L1535.7 526.1L1537.9 529.4L1540.0 532.8L1542.1 536.2L1544.1 539.7L1546.1 543.1L1548.0 546.6L1550.0 550.1L1551.9 553.6L1553.8 557.1L1555.8 560.6L1557.7 564.1L1559.6 567.6L1561.5 571.1L1563.4 574.6L1565.4 578.1L1567.3 581.6L1569.2 585.1L1571.1 588.6L1573.0 592.2L1574.9 595.7L1576.8 599.2L1578.6 602.8L1580.5 606.3L1582.4 609.8L1584.3 613.4L1586.1 616.9L1588.0 620.5L1589.8 624.0L1591.7 627.6L1593.5 631.1L1595.4 634.7L1597.2 638.2L1599.0 641.8L1600.9 645.4L1602.7 648.9L1604.5 652.5L1606.3 656.1L1608.1 659.7L1609.9 663.3L1611.7 666.8L1613.5 670.4L1615.2 674.0L1617.0 677.6L1618.8 681.2L1620.5 684.8L1622.3 688.4L1624.0 692.0L1625.8 695.6L1627.5 699.3L1629.2 702.9L1630.9 706.5L1632.6 710.1L1634.3 713.8L1636.0 717.4L1637.7 721.0L1639.4 724.6L1641.1 728.3L1642.7 731.9L1644.4 735.6L1646.0 739.2L1647.7 742.9L1649.3 746.5L1650.9 750.2L1652.5 753.8L1654.1 757.5L1655.7 761.2L1657.3 764.8L1658.9 768.5L1660.5 772.2L1662.0 775.9L1663.6 779.6L1665.1 783.2L1666.6 786.9L1668.2 790.6L1669.7 794.3L1671.2 798.0L1672.7 801.7L1674.2 805.4L1675.7 809.1L1677.2 812.8L1678.7 816.5L1680.2 820.2L1681.7 823.9L1683.2 827.6L1684.6 831.4L1686.1 835.1L1687.6 838.8L1689.1 842.5L1690.6 846.2L1692.1 849.9L1693.6 853.6L1695.1 857.3L1696.6 861.0L1698.1 864.7L1699.6 868.4L1701.1 872.1L1702.7 875.8L1704.2 879.5L1705.7 883.2L1707.3 886.9L1708.9 890.6L1710.5 894.3L1712.0 897.9L1713.6 901.6L1715.3 905.3L1716.9 908.9L1718.5 912.6L1720.2 916.3L1721.9 919.9L1723.5 923.6L1725.2 927.2L1727.0 930.8L1728.7 934.5L1730.5 938.1L1732.2 941.7L1734.0 945.3L1735.8 948.9L1737.7 952.5L1739.5 956.0L1741.4 959.6L1743.3 963.1L1745.2 966.6L1747.1 970.2L1749.1 973.7L1751.0 977.1L1753.0 980.6L1755.0 984.1L1757.1 987.5L1759.2 990.9L1761.3 994.3L1763.4 997.7L1765.5 1001.1L1767.7 1004.4L1769.9 1007.7L1772.1 1011.1L1774.4 1014.3L1776.7 1017.6L1779.0 1020.9L1781.3 1024.1L1783.7 1027.3L1786.1 1030.5L1788.5 1033.7L1790.9 1036.8L1793.3 1040.0L1795.8 1043.1L1798.3 1046.2L1800.8 1049.3L1803.3 1052.4L1805.8 1055.5L1808.4 1058.6L1811.0 1061.7L1813.5 1064.7L1816.1 1067.8L1818.7 1070.8L1821.3 1073.8L1824.0 1076.8L1826.6 1079.9L1829.2 1082.9L1831.9 1085.9L1834.5 1088.9L1837.2 1091.9L1839.9 1094.9L1842.5 1097.9L1845.2 1100.9L1847.9 1103.9L1850.6 1106.9L1853.2 1109.9L1855.9 1112.9L1858.6 1115.9L1861.3 1118.9L1863.9 1121.9L1866.6 1124.9L1869.3 1127.9L1871.9 1130.9L1874.6 1133.9L1877.2 1137.0L1879.9 1140.0L1882.5 1143.0L1885.2 1146.0L1887.9 1148.9L1890.7 1151.9L1893.4 1154.7L1896.3 1157.5L1899.1 1160.2L1902.1 1162.9L1905.1 1165.4L1908.2 1167.9L1911.4 1170.3L1914.6 1172.5L1918.0 1174.6L1921.4 1176.7L1924.9 1178.6L1928.4 1180.5L1931.9 1182.4L1935.5 1184.2L1939.1 1186.0L1942.7 1187.9L1946.2 1189.7L1949.8 1191.5L1953.4 1193.3L1956.9 1195.2L1960.5 1197.0L1964.0 1198.9L1967.5 1200.8L1971.1 1202.7L1974.5 1204.6L1978.0 1206.6L1981.4 1208.6L1984.9 1210.7L1988.2 1212.8L1991.6 1215.0L1994.9 1217.2L1998.2 1219.4L2001.5 1221.7L2004.8 1224.0L2008.0 1226.3L2011.2 1228.7L2014.4 1231.1L2017.6 1233.6L2020.7 1236.0L2023.9 1238.5L2027.0 1241.0L2030.1 1243.6L2033.2 1246.1L2036.3 1248.7L2039.4 1251.3L2042.5 1253.8L2045.6 1256.4L2048.6 1259.0L2051.7 1261.6L2054.7 1264.3L2057.8 1266.9L2060.8 1269.5L2063.9 1272.1L2066.9 1274.7L2070.0 1277.3L2073.1 1279.8L2076.1 1282.4L2079.2 1285.0L2082.3 1287.5L2085.4 1290.0L2088.5 1292.5L2091.6 1295.0L2094.8 1297.4L2097.9 1299.8L2101.1 1302.2" stroke="#0000ff"/>
<path d="M257.9 1562.8L370.0 1562.8L382.0 1564.0L392.0 1567.0L400.0 1568.0L406.0 1565.0L409.7 1560.7L411.7 1557.5L413.4 1554.1L415.0 1550.6L416.4 1547.0L417.7 1543.3L418.9 1539.5L420.0 1535.7L421.0 1531.7L422.0 1527.7L422.9 1523.7L423.8 1519.7L424.7 1515.6L425.7 1511.6L426.6 1507.5L427.6 1503.5L428.7 1499.6L429.8 1495.6L431.1 1491.8L432.4 1488.0L433.9 1484.4L435.6 1480.8L437.4 1477.4L439.4 1474.1L441.6 1470.9L444.0 1467.8L446.5 1464.9L449.1 1462.0L451.9 1459.3L454.8 1456.6L457.8 1454.1L460.9 1451.6L464.1 1449.2L467.4 1446.8L470.8 1444.6L474.2 1442.4L477.6 1440.2L481.2 1438.1L484.7 1436.1L488.2 1434.1L491.8 1432.1L495.3 1430.1L498.9 1428.2L502.4 1426.3L506.0 1424.4L509.5 1422.6L513.1 1420.8L516.6 1419.0L520.2 1417.3L523.8 1415.6L527.4 1413.9L531.0 1412.4L534.6 1410.8L538.3 1409.4L542.0 1408.0L545.7 1406.6L549.5 1405.3L553.3 1404.1L557.2 1403.0L561.1 1401.9L565.0 1400.9L569.0 1399.9L572.9 1399.0L576.9 1398.0L580.8 1397.0L584.7 1395.9L588.6 1394.7L592.4 1393.5L596.1 1392.1L599.7 1390.6L603.3 1388.9L606.7 1387.1L610.0 1385.0L613.2 1382.7L616.3 1380.3L619.2 1377.7L622.1 1375.0L624.9 1372.2L627.6 1369.2L630.3 1366.2L632.8 1363.1L635.3 1359.9L637.8 1356.7L640.2 1353.4L642.6 1350.2L645.0 1346.9L647.4 1343.7L649.8 1340.4L652.3 1337.3L654.8 1334.2L657.4 1331.2L660.1 1328.2L662.9 1325.4L665.7 1322.6L668.6 1319.8L671.5 1317.2L674.5 1314.5L677.5 1311.9L680.6 1309.4L683.7 1306.8L686.8 1304.3L689.9 1301.8L693.0 1299.3L696.1 1296.8L699.2 1294.2L702.3 1291.7L705.4 1289.1L708.4 1286.5L711.4 1283.8L714.4 1281.1L717.3 1278.4L720.3 1275.7L723.1 1272.9L726.0 1270.0L728.8 1267.2L731.6 1264.3L734.3 1261.4L737.0 1258.4L739.7 1255.5L742.4 1252.4L745.0 1249.4L747.5 1246.3L750.1 1243.2L752.5 1240.1L755.0 1236.9L757.4 1233.7L759.8 1230.5L762.1 1227.3L764.4 1224.0L766.6 1220.7L768.8 1217.3L771.0 1214.0L773.1 1210.6L775.2 1207.2L777.2 1203.7L779.2 1200.3L781.1 1196.8L783.0 1193.3L784.9 1189.7L786.7 1186.2L788.5 1182.6L790.3 1179.0L792.0 1175.4L793.8 1171.8L795.4 1168.2L797.1 1164.5L798.7 1160.8L800.3 1157.2L801.9 1153.5L803.4 1149.8L805.0 1146.1L806.5 1142.4L808.0 1138.7L809.4 1134.9L810.9 1131.2L812.4 1127.5L813.8 1123.7L815.3 1120.0L816.7 1116.3L818.2 1112.6L819.6 1108.8L821.1 1105.1L822.5 1101.4L824.0 1097.7L825.5 1094.0L827.1 1090.3L828.6 1086.6L830.2 1082.9L831.8 1079.3L833.5 1075.6L835.1 1072.0L836.8 1068.3L838.5 1064.7L840.2 1061.1L841.9 1057.5L843.5 1053.8L845.2 1050.2L846.9 1046.5L848.5 1042.9L850.1 1039.2L851.7 1035.6L853.3 1031.9L854.8 1028.2L856.3 1024.5L857.7 1020.7L859.1 1017.0L860.5 1013.3L861.9 1009.5L863.3 1005.8L864.6 1002.0L865.9 998.2L867.2 994.4L868.5 990.6L869.7 986.8L871.0 983.0L872.2 979.2L873.4 975.4L874.6 971.6L875.8 967.8L877.0 963.9L878.2 960.1L879.4 956.3L880.6 952.5L881.8 948.6L883.0 944.8L884.3 941.0L885.5 937.2L886.8 933.5L888.1 929.7L889.5 925.9L890.9 922.2L892.3 918.4L893.8 914.7L895.3 911.0L896.9 907.3L898.5 903.7L900.2 900.0L901.9 896.4L903.7 892.8L905.5 889.2L907.3 885.7L909.2 882.2L911.2 878.7L913.1 875.2L915.2 871.7L917.2 868.3L919.3 864.9L921.5 861.5L923.7 858.2L925.9 854.9L928.2 851.6L930.4 848.3L932.8 845.0L935.1 841.8L937.4 838.5L939.8 835.3L942.2 832.1L944.5 828.8L946.9 825.6L949.2 822.4L951.6 819.1L953.9 815.9L956.3 812.6L958.6 809.3L960.8 806.0L963.1 802.7L965.3 799.4L967.5 796.1L969.7 792.7L971.8 789.3L973.9 785.9L975.9 782.5L977.9 779.0L979.9 775.5L981.8 772.0L983.7 768.5L985.6 764.9L987.4 761.4L989.2 757.8L991.0 754.2L992.7 750.6L994.5 747.0L996.2 743.4L997.9 739.8L999.5 736.1L1001.2 732.5L1002.8 728.9L1004.5 725.2L1006.1 721.5L1007.7 717.9L1009.3 714.2L1010.9 710.6L1012.5 706.9L1014.1 703.2L1015.7 699.6L1017.3 695.9L1018.9 692.2L1020.6 688.6L1022.2 684.9L1023.9 681.3L1025.5 677.7L1027.2 674.0L1028.9 670.4L1030.6 666.8L1032.4 663.2L1034.1 659.6L1035.9 656.0L1037.8 652.5L1039.6 648.9L1041.5 645.4L1043.4 641.8L1045.3 638.3L1047.3 634.8L1049.2 631.4L1051.3 627.9L1053.3 624.4L1055.3 621.0L1057.4 617.6L1059.5 614.2L1061.7 610.8L1063.8 607.4L1066.0 604.1L1068.2 600.7L1070.5 597.4L1072.7 594.1L1075.0 590.8L1077.3 587.5L1079.6 584.3L1082.0 581.0L1084.4 577.8L1086.8 574.6L1089.2 571.4L1091.6 568.3L1094.1 565.1L1096.6 562.0L1099.1 558.9L1101.6 555.8L1104.2 552.7L1106.7 549.7L1109.3 546.6L1112.0 543.6L1114.6 540.6L1117.3 537.6L1120.0 534.7L1122.7 531.7L1125.4 528.8L1128.2 525.9L1130.9 523.0L1133.7 520.1L1136.5 517.3L1139.4 514.4L1142.2 511.6L1145.1 508.8L1147.9 506.0L1150.7 503.1L1153.6 500.3L1156.4 497.5L1159.2 494.6L1161.9 491.7L1164.6 488.8L1167.3 485.9L1170.0 482.9L1172.5 479.8L1175.1 476.8L1177.5 473.6L1179.9 470.5L1182.2 467.2L1184.5 464.0L1186.8 460.7L1189.1 457.4L1191.4 454.2L1193.8 450.9L1196.2 447.8L1198.7 444.7L1201.4 441.7L1204.1 438.8L1207.0 436.0L1209.9 433.2L1213.0 430.6L1216.1 428.1L1219.3 425.7L1222.6 423.4L1225.9 421.2L1229.3 419.1L1232.8 417.1L1236.4 415.2L1239.9 413.4L1243.6 411.8L1247.3 410.2L1251.0 408.8L1254.8 407.4L1258.6 406.2L1262.4 405.1L1266.3 404.1L1270.2 403.2L1274.1 402.4L1278.0 401.7L1282.0 401.2L1286.0 400.7L1289.9 400.4L1293.9 400.1L1297.9 400.0L1301.9 400.0L1305.9 400.1L1309.9 400.3L1313.9 400.6L1317.9 401.0L1321.9 401.5L1325.8 402.1L1329.8 402.8L1333.7 403.6L1337.6 404.4L1341.5 405.4L1345.4 406.5L1349.2 407.7L1353.0 408.9L1356.7 410.3L1360.5 411.7L1364.2 413.2L1367.8 414.8L1371.4 416.5L1375.0 418.3L1378.6 420.1L1382.1 421.9L1385.7 423.8L1389.2 425.7L1392.7 427.6L1396.2 429.5L1399.8 431.4L1403.3 433.4L1406.8 435.3L1410.4 437.2L1413.9 439.2L1417.3 441.2L1420.8 443.2L1424.1 445.4L1427.4 447.6L1430.7 449.9L1433.8 452.3L1436.9 454.8L1439.9 457.4L1442.8 460.1L1445.6 462.9L1448.4 465.7L1451.1 468.7L1453.7 471.7L1456.2 474.8L1458.7 477.9L1461.2 481.1L1463.7 484.3L1466.1 487.5L1468.4 490.8L1470.8 494.0L1473.2 497.3L1475.5 500.6L1477.8 503.8L1480.2 507.1L1482.6 510.3L1484.9 513.6L1487.3 516.8L1489.7 520.0L1492.2 523.1L1494.6 526.3L1497.1 529.4L1499.6 532.5L1502.2 535.5L1504.8 538.5L1507.4 541.5L1510.0 544.5L1512.7 547.5L1515.3 550.5L1518.0 553.4L1520.7 556.4L1523.3 559.4L1526.0 562.4L1528.6 565.5L1531.2 568.5L1533.8 571.6L1536.3 574.7L1538.8 577.9L1541.2 581.1L1543.6 584.3L1545.9 587.6L1548.1 590.9L1550.2 594.3L1552.2 597.8L1554.1 601.3L1555.9 604.8L1557.6 608.4L1559.2 612.1L1560.8 615.8L1562.3 619.5L1563.7 623.2L1565.1 627.0L1566.5 630.7L1567.9 634.5L1569.3 638.3L1570.6 642.1L1572.0 645.9L1573.4 649.7L1574.9 653.4L1576.3 657.1L1577.8 660.9L1579.4 664.6L1580.9 668.2L1582.5 671.9L1584.2 675.6L1585.8 679.2L1587.5 682.8L1589.2 686.4L1591.0 690.0L1592.8 693.6L1594.6 697.1L1596.4 700.7L1598.2 704.2L1600.1 707.7L1602.0 711.2L1603.9 714.7L1605.9 718.2L1607.8 721.7L1609.8 725.2L1611.8 728.6L1613.8 732.1L1615.9 735.5L1617.9 738.9L1620.0 742.3L1622.1 745.7L1624.2 749.1L1626.3 752.5L1628.4 755.9L1630.5 759.3L1632.7 762.7L1634.8 766.0L1637.0 769.4L1639.2 772.7L1641.4 776.1L1643.6 779.4L1645.8 782.8L1648.0 786.1L1650.2 789.4L1652.4 792.8L1654.7 796.1L1656.9 799.4L1659.2 802.7L1661.4 806.0L1663.6 809.4L1665.9 812.7L1668.1 816.0L1670.4 819.3L1672.6 822.6L1674.9 826.0L1677.1 829.3L1679.4 832.6L1681.6 835.9L1683.9 839.2L1686.1 842.6L1688.3 845.9L1690.5 849.2L1692.8 852.6L1695.0 855.9L1697.2 859.2L1699.4 862.6L1701.6 865.9L1703.7 869.3L1705.9 872.7L1708.1 876.0L1710.2 879.4L1712.3 882.8L1714.4 886.2L1716.6 889.6L1718.6 893.0L1720.7 896.4L1722.8 899.8L1724.8 903.3L1726.9 906.7L1728.9 910.2L1730.9 913.6L1732.8 917.1L1734.8 920.6L1736.7 924.1L1738.6 927.6L1740.5 931.1L1742.4 934.7L1744.2 938.2L1746.1 941.8L1747.9 945.3L1749.6 948.9L1751.4 952.5L1753.1 956.1L1754.8 959.8L1756.4 963.4L1758.0 967.0L1759.6 970.7L1761.1 974.4L1762.7 978.1L1764.1 981.8L1765.6 985.6L1767.0 989.3L1768.3 993.1L1769.6 996.9L1770.9 1000.6L1772.1 1004.5L1773.3 1008.3L1774.5 1012.1L1775.7 1015.9L1776.9 1019.7L1778.2 1023.5L1779.4 1027.3L1780.8 1031.1L1782.1 1034.9L1783.5 1038.6L1785.1 1042.3L1786.6 1045.9L1788.3 1049.5L1790.1 1053.1L1791.9 1056.7L1793.8 1060.2L1795.7 1063.7L1797.7 1067.2L1799.7 1070.6L1801.8 1074.1L1803.8 1077.6L1805.9 1081.0L1807.9 1084.5L1810.0 1087.9L1812.0 1091.4L1814.0 1094.9L1816.0 1098.3L1818.0 1101.8L1820.0 1105.3L1822.0 1108.8L1824.0 1112.2L1826.0 1115.7L1828.0 1119.1L1830.1 1122.5L1832.2 1125.9L1834.3 1129.3L1836.5 1132.7L1838.8 1136.0L1841.1 1139.3L1843.4 1142.5L1845.8 1145.7L1848.2 1148.9L1850.7 1152.0L1853.3 1155.1L1855.9 1158.2L1858.5 1161.2L1861.2 1164.1L1864.0 1167.0L1866.8 1169.9L1869.7 1172.6L1872.6 1175.4L1875.5 1178.1L1878.5 1180.7L1881.6 1183.2L1884.7 1185.7L1887.9 1188.2L1891.1 1190.5L1894.4 1192.8L1897.7 1195.1L1901.0 1197.2L1904.4 1199.3L1907.9 1201.4L1911.3 1203.4L1914.8 1205.3L1918.3 1207.3L1921.8 1209.3L1925.3 1211.2L1928.8 1213.2L1932.3 1215.2L1935.8 1217.2L1939.3 1219.2L1942.8 1221.2L1946.3 1223.1L1949.8 1225.0L1953.4 1226.9L1956.9 1228.6L1960.5 1230.4L1964.1 1232.1L1967.8 1233.7L1971.4 1235.4L1975.1 1236.9L1978.8 1238.5L1982.5 1240.0L1986.2 1241.4L1989.9 1242.9L1993.6 1244.3L1997.4 1245.6L2001.2 1247.0L2004.9 1248.3L2008.7 1249.6L2012.5 1250.8L2016.3 1252.1L2020.1 1253.3L2024.0 1254.5L2027.8 1255.6L2031.6 1256.8L2035.5 1257.9L2039.3 1259.0L2043.2 1260.2L2047.0 1261.3L2050.9 1262.3L2054.8 1263.4L2058.6 1264.5L2062.5 1265.6L2066.3 1266.6L2070.2 1267.7L2074.1 1268.7L2077.9 1269.8L2081.8 1270.8L2085.6 1271.9L2089.5 1273.0L2093.3 1274.0L2097.2 1275.1L2101.0 1276.2" stroke="#009800"/>
</g>
<g fill="#000">
<text transform="translate(257.35 1648.20) scale(0.9690 1)" font-family="'Liberation Sans', Arial, Helvetica, sans-serif" font-size="71.20" text-anchor="middle">0</text>
<text transform="translate(563.86 1648.20) scale(0.9690 1)" font-family="'Liberation Sans', Arial, Helvetica, sans-serif" font-size="71.20" text-anchor="middle">5</text>
<text transform="translate(870.37 1648.20) scale(0.9690 1)" font-family="'Liberation Sans', Arial, Helvetica, sans-serif" font-size="71.20" text-anchor="middle">10</text>
<text transform="translate(1176.88 1648.20) scale(0.9690 1)" font-family="'Liberation Sans', Arial, Helvetica, sans-serif" font-size="71.20" text-anchor="middle">15</text>
<text transform="translate(1483.38 1648.20) scale(0.9690 1)" font-family="'Liberation Sans', Arial, Helvetica, sans-serif" font-size="71.20" text-anchor="middle">20</text>
<text transform="translate(1789.89 1648.20) scale(0.9690 1)" font-family="'Liberation Sans', Arial, Helvetica, sans-serif" font-size="71.20" text-anchor="middle">25</text>
<text transform="translate(2096.40 1648.20) scale(0.9690 1)" font-family="'Liberation Sans', Arial, Helvetica, sans-serif" font-size="71.20" text-anchor="middle">30</text>
<text transform="translate(226.50 1583.25) scale(0.9690 1)" font-family="'Liberation Sans', Arial, Helvetica, sans-serif" font-size="71.20" text-anchor="end">0</text>
<text transform="translate(226.50 1418.72) scale(0.9690 1)" font-family="'Liberation Sans', Arial, Helvetica, sans-serif" font-size="71.20" text-anchor="end">1</text>
<text transform="translate(226.50 1254.18) scale(0.9690 1)" font-family="'Liberation Sans', Arial, Helvetica, sans-serif" font-size="71.20" text-anchor="end">2</text>
<text transform="translate(226.50 1089.65) scale(0.9690 1)" font-family="'Liberation Sans', Arial, Helvetica, sans-serif" font-size="71.20" text-anchor="end">3</text>
<text transform="translate(226.50 925.12) scale(0.9690 1)" font-family="'Liberation Sans', Arial, Helvetica, sans-serif" font-size="71.20" text-anchor="end">4</text>
<text transform="translate(226.50 760.58) scale(0.9690 1)" font-family="'Liberation Sans', Arial, Helvetica, sans-serif" font-size="71.20" text-anchor="end">5</text>
<text transform="translate(226.50 596.05) scale(0.9690 1)" font-family="'Liberation Sans', Arial, Helvetica, sans-serif" font-size="71.20" text-anchor="end">6</text>
<text transform="translate(226.50 431.52) scale(0.9690 1)" font-family="'Liberation Sans', Arial, Helvetica, sans-serif" font-size="71.20" text-anchor="end">7</text>
<text transform="translate(226.50 266.98) scale(0.9690 1)" font-family="'Liberation Sans', Arial, Helvetica, sans-serif" font-size="71.20" text-anchor="end">8</text>
<text transform="translate(226.50 102.45) scale(0.9690 1)" font-family="'Liberation Sans', Arial, Helvetica, sans-serif" font-size="71.20" text-anchor="end">9</text>
<text transform="translate(1048.50 1778.00) scale(0.9615 1)" font-family="'Liberation Sans', Arial, Helvetica, sans-serif" font-size="88.40" font-style="italic">R</text>
<text transform="translate(1129.90 1778.00)" font-family="'Liberation Sans', Arial, Helvetica, sans-serif" font-size="85.00">(cm)</text>
<text transform="translate(99.50 990.00) rotate(-90) scale(0.9700 1)" font-family="'Liberation Serif', 'Times New Roman', Times, serif" font-size="86.50">Height</text>
<text transform="translate(99.50 737.80) rotate(-90)" font-family="'Liberation Sans', Arial, Helvetica, sans-serif" font-size="85.00">(cm)</text>
<text transform="translate(1293.60 995.60)" font-family="'Liberation Sans', Arial, Helvetica, sans-serif" font-size="84.30">Exp.</text>
<text transform="translate(1293.60 1098.10)" font-family="'Liberation Sans', Arial, Helvetica, sans-serif" font-size="84.30">Polyh-4</text>
<text transform="translate(1293.60 1200.50)" font-family="'Liberation Sans', Arial, Helvetica, sans-serif" font-size="84.30">Polyh-8</text>
<text transform="translate(1293.60 1303.30)" font-family="'Liberation Sans', Arial, Helvetica, sans-serif" font-size="84.30">Polyh-16</text>
<text transform="translate(1293.60 1405.80)" font-family="'Liberation Sans', Arial, Helvetica, sans-serif" font-size="84.30">Polyh-32</text>
</g>
<g fill="none" stroke-width="7.50" stroke-linecap="round">
<path d="M1084.80 967.25H1271.70" stroke="#000" stroke-dasharray="30.0 41.0"/>
<path d="M1084.80 1070.25H1271.70" stroke="#f80000"/>
<path d="M1084.80 1172.70H1271.70" stroke="#ff8000"/>
<path d="M1084.80 1275.30H1271.70" stroke="#0000ff"/>
<path d="M1084.80 1377.85H1271.70" stroke="#009800"/>
</g>
</svg>
</body></html>
